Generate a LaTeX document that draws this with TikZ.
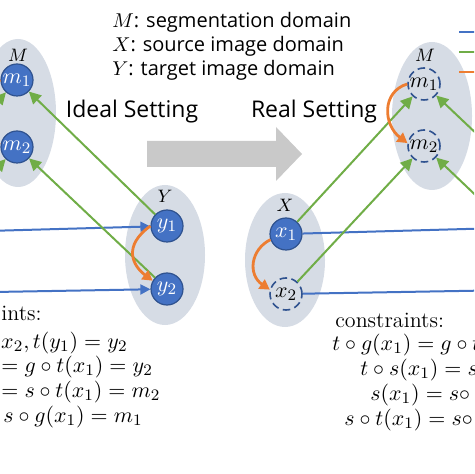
\documentclass[tikz,border=0pt]{standalone}
\usepackage{amsmath}
\usepackage{fontspec}
\usepackage{tikz}
\usepackage{xcolor}
\usetikzlibrary{arrows.meta, calc}
\newfontfamily\sansfam{Open Sans}
\definecolor{nodeblue}{HTML}{4472C4}
\definecolor{edgeblue}{HTML}{2F528F}
\definecolor{seggreen}{HTML}{70AD47}
\definecolor{transorange}{HTML}{ED7D31}
\definecolor{domgray}{HTML}{D6DCE5}
\definecolor{arrowgray}{HTML}{C9C9C9}

\begin{document}
\begin{tikzpicture}[x=0.5pt, y=-0.5pt,
  realpt/.style={circle, fill=nodeblue, draw=edgeblue, line width=0.6pt, minimum size=16pt, inner sep=0pt, text=white, font=\fontsize{11}{11}\selectfont},
  fakept/.style={circle, draw=edgeblue, dash pattern=on 3.8pt off 2.2pt, line width=0.8pt, minimum size=16pt, inner sep=0pt, font=\fontsize{11}{11}\selectfont},
  domlbl/.style={inner sep=0pt, font=\fontsize{9}{9}\selectfont},
  gen/.style={nodeblue, line width=1pt, -{Triangle[length=5pt,width=5pt]}},
  seg/.style={seggreen, line width=1pt, -{Triangle[length=6pt,width=6pt]}},
  tr/.style={transorange, line width=1.4pt, -{Triangle[length=5pt,width=5.5pt]}},
  keytxt/.style={anchor=west, inner sep=0pt, font=\sansfam\fontsize{10}{10}\selectfont},
  cons/.style={inner sep=0pt, font=\fontsize{11}{11}\selectfont}]
\useasboundingbox (0,0) rectangle (474,474);
\clip (0,0) rectangle (474,474);

% Domains
\fill[domgray] (18,113) ellipse (19pt and 37pt);
\fill[domgray] (165,255) ellipse (20pt and 35pt);
\fill[domgray] (285,260) ellipse (20pt and 33.5pt);
\fill[domgray] (432,116) ellipse (20pt and 37pt);
\node[domlbl] (labMa) at (18,55) {$M$};
\node[domlbl] (labY) at (165,196) {$Y$};
\node[domlbl] (labX) at (285,205) {$X$};
\node[domlbl] (labMb) at (425,55) {$M$};

% Legend
\node[keytxt] (keyM) at (112,22) {$M$: segmentation domain};
\node[keytxt] (keyX) at (112,46) {$X$: source image domain};
\node[keytxt] (keyY) at (112,70) {$Y$: target image domain};
\foreach \c/\y in {nodeblue/32, seggreen/52, transorange/72}
  \draw[\c, line width=1pt] (459,\y) -- (490,\y);

% Settings
\node[font=\sansfam\fontsize{11.5}{11.5}\selectfont] (ideal) at (132,112) {Ideal Setting};
\node[font=\sansfam\fontsize{11.5}{11.5}\selectfont] (real) at (314,112) {Real Setting};
\fill[arrowgray] (147,141) -- (276,141) -- (276,127) -- (302,154) -- (276,181) -- (276,167) -- (147,167) -- cycle;

% Ideal setting
\node[realpt] (ma1) at (17,80) {$m_1$};
\node[realpt] (ma2) at (17,147) {$m_2$};
\node[realpt] (y1) at (167,226) {$y_1$};
\node[realpt] (y2) at (167,289) {$y_2$};
\coordinate (xa1) at (-121,234);
\coordinate (xa2) at (-121,294);

% Real setting
\node[realpt] (x1) at (286,234) {$x_1$};
\node[fakept] (x2) at (286,294) {$x_2$};
\node[fakept] (mb1) at (424,84) {$m_1$};
\node[fakept] (mb2) at (424,146) {$m_2$};
\coordinate (yb1) at (574,226);
\coordinate (yb2) at (574,289);

% Translation
\draw[gen] (xa1) -- (y1);
\draw[gen] (xa2) -- (y2);
\draw[gen] (x1) -- (yb1);
\draw[gen] (x2) -- (yb2);

% Segmentation
\draw[seg] (xa1) -- (ma1);
\draw[seg] (xa2) -- (ma2);
\draw[seg] (y1) -- (ma1);
\draw[seg] (y2) -- (ma2);
\draw[seg] (x1) -- (mb1);
\draw[seg] (x2) -- (mb2);
\draw[seg] (yb1) -- (mb1);
\draw[seg] (yb2) -- (mb2);

% Transform within a domain
\draw[tr] (ma1.west) .. controls +(-26,8) and +(-24,-18) .. (ma2.170);
\draw[tr] (y1.west) .. controls +(-28,20) and +(-20,-15) .. (y2.150);
\draw[tr] (x1.200) .. controls +(-20,10) and +(-22,-15) .. (x2.165);
\draw[tr] (mb1.west) .. controls +(-26,8) and +(-24,-18) .. (mb2.170);

% Constraints
\node[cons, anchor=west] (consa0) at (1,313) {ints:};
\node[cons, anchor=east] (consa1) at (128,343) {$x_2, t(y_1) = y_2$};
\node[cons, anchor=west] (consa2) at (1,367) {$= g\circ t(x_1) = y_2$};
\node[cons, anchor=west] (consa3) at (1,392) {$= s\circ t(x_1) = m_2$};
\node[cons, anchor=west] (consa4) at (3,417) {$s\circ g(x_1) = m_1$};
\node[cons, anchor=west] (consb0) at (335,320) {constraints:};
\node[cons, anchor=west] (consb1) at (332,345) {$t\circ g(x_1) = g\circ t$};
\node[cons, anchor=west] (consb2) at (360,370) {$t\circ s(x_1) = s$};
\node[cons, anchor=west] (consb3) at (370,395) {$s(x_1) = s\circ$};
\node[cons, anchor=west] (consb4) at (344,420) {$s\circ t(x_1) = s\circ$};
\end{tikzpicture}
\end{document}
